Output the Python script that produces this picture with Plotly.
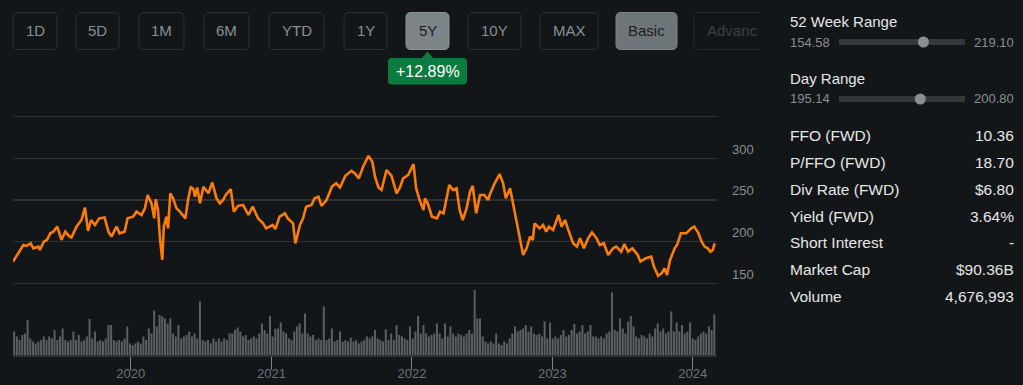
import plotly.graph_objects as go
import pandas as pd

# ---------------- data ----------------
price_dates = [
    "2019-03-01", "2019-03-14", "2019-03-28", "2019-04-05", "2019-04-16", "2019-04-23", "2019-05-06", "2019-05-10",
    "2019-05-20", "2019-05-28", "2019-06-06", "2019-06-14", "2019-06-24", "2019-07-01", "2019-07-05", "2019-07-15",
    "2019-07-26", "2019-07-31", "2019-08-13", "2019-08-26", "2019-09-04", "2019-09-12", "2019-09-20", "2019-09-30",
    "2019-10-11", "2019-10-25", "2019-11-04", "2019-11-12", "2019-11-25", "2019-12-03", "2019-12-16", "2019-12-24",
    "2020-01-07", "2020-01-16", "2020-01-29", "2020-02-07", "2020-02-14", "2020-02-24", "2020-03-02", "2020-03-06",
    "2020-03-12", "2020-03-17", "2020-03-23", "2020-03-27", "2020-04-03", "2020-04-07", "2020-04-13", "2020-04-20",
    "2020-04-29", "2020-05-08", "2020-05-15", "2020-05-22", "2020-05-29", "2020-06-05", "2020-06-12", "2020-06-16",
    "2020-06-22", "2020-06-29", "2020-07-08", "2020-07-21", "2020-07-31", "2020-08-11", "2020-08-20", "2020-08-28",
    "2020-09-04", "2020-09-17", "2020-09-25", "2020-10-06", "2020-10-19", "2020-11-02", "2020-11-13", "2020-11-27",
    "2020-12-10", "2020-12-18", "2021-01-04", "2021-01-11", "2021-01-22", "2021-02-05", "2021-02-12", "2021-02-26",
    "2021-03-04", "2021-03-16", "2021-03-24", "2021-04-01", "2021-04-15", "2021-04-23", "2021-05-03", "2021-05-11",
    "2021-05-24", "2021-06-07", "2021-06-18", "2021-06-28", "2021-07-12", "2021-07-28", "2021-08-06", "2021-08-16",
    "2021-08-27", "2021-09-10", "2021-09-20", "2021-09-27", "2021-10-06", "2021-10-14", "2021-10-27", "2021-11-09",
    "2021-11-22", "2021-12-01", "2021-12-09", "2021-12-22", "2022-01-05", "2022-01-12", "2022-01-21", "2022-01-31",
    "2022-02-04", "2022-02-11", "2022-02-22", "2022-03-07", "2022-03-15", "2022-03-24", "2022-04-01", "2022-04-08",
    "2022-04-18", "2022-04-27", "2022-05-05", "2022-05-13", "2022-05-23", "2022-06-01", "2022-06-08", "2022-06-14",
    "2022-06-17", "2022-06-27", "2022-07-08", "2022-07-18", "2022-07-22", "2022-08-04", "2022-08-17", "2022-08-26",
    "2022-09-02", "2022-09-13", "2022-09-21", "2022-09-30", "2022-10-07", "2022-10-17", "2022-10-26", "2022-11-04",
    "2022-11-11", "2022-11-16", "2022-11-29", "2022-12-08", "2022-12-16", "2022-12-23", "2023-01-03", "2023-01-17",
    "2023-01-25", "2023-02-03", "2023-02-10", "2023-02-24", "2023-03-06", "2023-03-14", "2023-03-24", "2023-04-04",
    "2023-04-14", "2023-04-26", "2023-05-04", "2023-05-15", "2023-05-26", "2023-06-08", "2023-06-16", "2023-06-29",
    "2023-07-07", "2023-07-17", "2023-07-28", "2023-08-11", "2023-08-18", "2023-09-01", "2023-09-15", "2023-09-22",
    "2023-10-03", "2023-10-12", "2023-10-20", "2023-10-26", "2023-11-03", "2023-11-15", "2023-11-22", "2023-12-01",
    "2023-12-15", "2023-12-28", "2024-01-05", "2024-01-16", "2024-01-24", "2024-02-01", "2024-02-09", "2024-02-16",
    "2024-02-22", "2024-02-27",
]
price_values = [
    176, 186, 196, 195, 198, 192, 194, 190,
    200, 202, 210, 212, 218, 208, 202, 212,
    206, 205, 218, 226, 241, 213, 226, 220,
    228, 229, 212, 206, 218, 210, 212, 228,
    230, 236, 232, 240, 256, 246, 228, 251,
    238, 204, 178, 218, 230, 216, 258, 252,
    240, 236, 232, 228, 250, 266, 263, 254,
    265, 246, 266, 258, 271, 252, 246, 250,
    256, 263, 236, 243, 244, 232, 242, 228,
    222, 216, 220, 215, 230, 234, 228, 222,
    198, 220, 228, 242, 244, 252, 254, 243,
    250, 266, 270, 265, 279, 285, 282, 276,
    290, 303, 296, 278, 265, 262, 286, 279,
    258, 265, 276, 280, 293, 264, 250, 238,
    252, 246, 230, 228, 236, 234, 252, 268,
    262, 264, 238, 226, 240, 260, 267, 242,
    234, 256, 256, 250, 256, 270, 281, 270,
    252, 264, 246, 222, 210, 184, 192, 206,
    202, 222, 216, 220, 212, 218, 214, 232,
    218, 226, 216, 198, 194, 204, 192, 204,
    211, 204, 196, 198, 184, 192, 194, 188,
    197, 188, 192, 184, 176, 180, 182, 170,
    159, 162, 168, 160, 178, 192, 197, 210,
    210, 216, 218, 210, 200, 194, 192, 188,
    190, 198,
]

# weekly volume (millions of shares), weeks starting 2019-03-04
volume_start = "2019-03-04"
volume_values = [
    4.7, 3.7, 3.0, 4.0, 4.3, 7.0, 3.3, 2.7, 2.3, 2.7, 3.0, 3.7, 3.0, 3.7, 3.3, 5.0,
    3.0, 3.7, 5.3, 3.0, 2.7, 3.0, 4.7, 3.0, 4.0, 2.7, 3.0, 3.7, 7.2, 3.3, 4.7, 2.7,
    3.0, 2.7, 3.3, 6.0, 6.0, 3.0, 2.7, 3.0, 2.7, 3.3, 5.7, 2.3, 2.0, 2.3, 2.7, 2.3,
    3.7, 3.0, 5.3, 4.3, 8.9, 5.7, 8.0, 7.7, 7.3, 6.3, 7.3, 4.3, 3.7, 6.0, 3.3, 3.7,
    4.0, 4.7, 3.7, 4.3, 3.3, 10.7, 3.0, 2.7, 3.0, 2.3, 3.3, 2.7, 3.3, 2.7, 3.3, 3.0,
    4.3, 4.3, 5.0, 5.5, 4.7, 3.7, 4.0, 3.0, 3.3, 3.7, 3.3, 4.3, 6.3, 5.0, 4.3, 7.8,
    3.7, 5.3, 5.3, 6.5, 4.7, 4.3, 3.3, 3.0, 4.7, 5.7, 6.3, 4.3, 8.3, 4.3, 3.7, 4.0,
    3.0, 3.3, 3.0, 9.7, 3.0, 3.3, 5.3, 2.7, 3.0, 4.7, 2.7, 3.0, 2.7, 3.5, 2.7, 3.0,
    2.3, 2.7, 3.0, 3.7, 3.3, 3.7, 5.0, 3.3, 3.0, 2.7, 5.1, 3.0, 4.3, 3.0, 6.0, 4.0,
    3.7, 3.3, 3.0, 5.7, 3.3, 4.7, 7.8, 4.3, 6.0, 4.3, 3.7, 4.0, 4.3, 6.3, 4.3, 3.3,
    6.3, 3.7, 5.7, 4.3, 3.7, 4.3, 4.0, 3.7, 4.3, 5.0, 4.3, 13.0, 7.3, 7.3, 3.7, 2.7,
    2.3, 2.7, 2.3, 4.3, 2.3, 2.0, 2.7, 2.3, 3.3, 4.3, 5.7, 4.7, 5.0, 5.3, 6.0, 4.7,
    5.7, 4.3, 4.0, 4.3, 3.7, 6.7, 3.3, 6.5, 3.3, 3.7, 3.3, 4.0, 5.0, 3.7, 4.0, 5.0,
    6.2, 4.3, 4.7, 6.0, 4.3, 4.7, 6.0, 3.7, 3.7, 3.3, 3.7, 3.3, 4.3, 4.7, 12.5, 5.0,
    4.7, 7.3, 5.3, 4.3, 6.7, 7.8, 5.7, 3.7, 3.3, 4.0, 3.7, 3.3, 4.3, 3.7, 5.3, 6.3,
    4.7, 5.3, 4.3, 4.7, 8.7, 4.7, 6.5, 4.7, 6.0, 4.3, 4.7, 6.5, 3.3, 3.0, 3.7, 4.3,
    4.7, 4.3, 5.7, 5.0, 8.1,
]

price_ticks = [150, 200, 250, 300, 350]
price_tick_text = ["150", "200", "250", "300", ""]

range_buttons = ["1D", "5D", "1M", "6M", "YTD", "1Y", "5Y", "10Y", "MAX"]
active_button = "5Y"
period_change = "+12.89%"

week52_low, week52_high, week52_pos = "154.58", "219.10", 0.67
day_low, day_high, day_pos = "195.14", "200.80", 0.645

stat_labels = ["FFO (FWD)", "P/FFO (FWD)", "Div Rate (FWD)", "Yield (FWD)",
               "Short Interest", "Market Cap", "Volume"]
stat_values = ["10.36", "18.70", "$6.80", "3.64%", "-", "$90.36B", "4,676,993"]

# ---------------- layout helpers ----------------
W, H = 1023, 385
L, R, T, B = 13, 306, 110, 30
PW, PH = W - L - R, H - T - B
BG = "#131619"
FONT = "Liberation Sans, Arial, sans-serif"

# price pane: gridline 350 at y=116.7px, 150 at y=283.3px; padded slightly so edge gridlines show
P_LO, P_HI = 148, 352
PPX = (283.3 - 116.7) / 200.0  # px per price unit
price_bottom_px = 283.3 + (150 - P_LO) * PPX
price_top_px = 116.7 - (P_HI - 350) * PPX


def px(x):
    return (x - L) / PW


def py(y):
    return (H - B - y) / PH


def rrect(x0, y0, x1, y1, r):
    pts = [
        f"M{px(x0 + r)},{py(y0)}",
        f"L{px(x1 - r)},{py(y0)}",
        f"Q{px(x1)},{py(y0)} {px(x1)},{py(y0 + r)}",
        f"L{px(x1)},{py(y1 - r)}",
        f"Q{px(x1)},{py(y1)} {px(x1 - r)},{py(y1)}",
        f"L{px(x0 + r)},{py(y1)}",
        f"Q{px(x0)},{py(y1)} {px(x0)},{py(y1 - r)}",
        f"L{px(x0)},{py(y0 + r)}",
        f"Q{px(x0)},{py(y0)} {px(x0 + r)},{py(y0)}",
        "Z",
    ]
    return " ".join(pts)


shapes = []
annotations = []


def text(x, y, s, size, color, xanchor="left"):
    annotations.append(dict(
        x=px(x), y=py(y), xref="paper", yref="paper", text=s, showarrow=False,
        xanchor=xanchor, yanchor="middle", font=dict(family=FONT, size=size, color=color),
    ))


# ---------------- figure ----------------
vol_dates = pd.date_range(volume_start, periods=len(volume_values), freq="7D")

fig = go.Figure()
fig.add_trace(go.Bar(
    x=vol_dates, y=volume_values, yaxis="y2", marker=dict(color="#596062", line=dict(width=0)),
    hoverinfo="skip",
))
fig.add_trace(go.Scatter(
    x=pd.to_datetime(price_dates), y=price_values, mode="lines",
    line=dict(color="#fb7d07", width=2.6), hoverinfo="skip",
))

# range buttons
btn_x = [(13, 57), (76, 119), (139, 184), (204, 249), (269, 324), (344, 387), (406, 449), (468, 521), (540, 598)]
for (x0, x1), lab in zip(btn_x, range_buttons):
    if lab == active_button:
        shapes.append(dict(type="path", path=rrect(x0, 12.5, x1, 49.5, 5), xref="paper", yref="paper",
                           fillcolor="#7d8487", line=dict(color="#8e9598", width=1)))
        text((x0 + x1) / 2, 31, lab, 15, "#1d2022", "center")
    else:
        shapes.append(dict(type="path", path=rrect(x0, 12.5, x1, 49.5, 5), xref="paper", yref="paper",
                           fillcolor=BG, line=dict(color="#2c3134", width=1)))
        text((x0 + x1) / 2, 31, lab, 15, "#8a8f92", "center")

# Basic / Advanced toggles
shapes.append(dict(type="path", path=rrect(616, 12.5, 677, 49.5, 5), xref="paper", yref="paper",
                   fillcolor="#6e7578", line=dict(color="#7d8487", width=1)))
text(646.5, 31, "Basic", 15, "#1d2022", "center")
shapes.append(dict(type="path", path=rrect(694, 12.5, 790, 49.5, 5), xref="paper", yref="paper",
                   fillcolor=BG, line=dict(color="#24282b", width=1)))
text(705, 31, "Advanc", 15, "#3b4043", "left")

# change badge
shapes.append(dict(type="path", path=rrect(388, 58, 467, 84.5, 4), xref="paper", yref="paper",
                   fillcolor="#0b7b40", line=dict(width=0)))
shapes.append(dict(type="path",
                   path=f"M{px(421.5)},{py(58.5)} L{px(427.5)},{py(51.5)} L{px(433.5)},{py(58.5)} Z",
                   xref="paper", yref="paper", fillcolor="#0b7b40", line=dict(width=0)))
text(427.5, 71, period_change, 16, "#ffffff", "center")

# panel background covering the overflow of the clipped toggle
shapes.append(dict(type="rect", x0=px(760), x1=px(1023), y0=py(0), y1=py(60), xref="paper", yref="paper",
                   fillcolor=BG, line=dict(width=0), layer="above"))

# right panel
text(788, 21, "52 Week Range", 15, "#e6e6e6")
text(788, 42, week52_low, 13, "#8a8f92")
text(1016, 42, week52_high, 13, "#8a8f92", "right")
shapes.append(dict(type="rect", x0=px(839), x1=px(965), y0=py(39), y1=py(45), xref="paper", yref="paper",
                   fillcolor="#33383b", line=dict(width=0), layer="above"))
kx = 839 + week52_pos * (965 - 839)
shapes.append(dict(type="circle", x0=px(kx - 5.5), x1=px(kx + 5.5), y0=py(36.5), y1=py(47.5),
                   xref="paper", yref="paper", fillcolor="#8a9092", line=dict(width=0), layer="above"))

text(788, 78, "Day Range", 15, "#e6e6e6")
text(788, 98, day_low, 13, "#8a8f92")
text(1016, 98, day_high, 13, "#8a8f92", "right")
shapes.append(dict(type="rect", x0=px(839), x1=px(965), y0=py(96), y1=py(102), xref="paper", yref="paper",
                   fillcolor="#33383b", line=dict(width=0), layer="above"))
kx = 839 + day_pos * (965 - 839)
shapes.append(dict(type="circle", x0=px(kx - 5.5), x1=px(kx + 5.5), y0=py(93.5), y1=py(104.5),
                   xref="paper", yref="paper", fillcolor="#8a9092", line=dict(width=0), layer="above"))

row_y = [135.5, 162.5, 189.5, 216.5, 242.5, 269, 296]
for yy, lab, val in zip(row_y, stat_labels, stat_values):
    text(788, yy, lab, 15.5, "#e6e6e6")
    text(1016, yy, val, 15.5, "#e6e6e6", "right")

fig.update_layout(
    width=W, height=H, autosize=False,
    margin=dict(l=L, r=R, t=T, b=B, pad=0, autoexpand=False),
    paper_bgcolor=BG, plot_bgcolor=BG,
    showlegend=False, hovermode=False, bargap=0.25,
    font=dict(family=FONT),
    xaxis=dict(
        type="date", range=["2019-03-01", "2024-03-04"], anchor="y2", automargin=False,
        showgrid=False, zeroline=False, showline=True, linecolor="#2d3236", linewidth=2,
        ticks="outside", ticklen=13, tickwidth=1, tickcolor="#7f8487",
        dtick="M12", tick0="2020-01-01", tickformat="%Y", ticklabelstandoff=-8,
        tickfont=dict(family=FONT, size=13, color="#6c7174"),
        fixedrange=True,
    ),
    yaxis=dict(
        domain=[(H - B - price_bottom_px) / PH, (H - B - price_top_px) / PH],
        range=[P_LO, P_HI], side="right", anchor="x", automargin=False,
        tickvals=price_ticks, ticktext=price_tick_text, ticklabelposition="outside top",
        showgrid=True, gridcolor="#2e3235", gridwidth=1.5, zeroline=False, showline=False,
        ticks="", ticklabelstandoff=14,
        tickfont=dict(family=FONT, size=13, color="#8a8f92"),
        fixedrange=True,
    ),
    yaxis2=dict(
        domain=[0, 65 / PH], range=[0, 13], anchor="x", automargin=False,
        showgrid=False, zeroline=False, showticklabels=False, showline=False, fixedrange=True,
    ),
    shapes=shapes,
    annotations=annotations,
)

fig.write_html(
    "out.html",
    config={"displayModeBar": False, "staticPlot": True},
    post_script="document.body.style.margin='0';document.body.style.background='#131619';",
)
